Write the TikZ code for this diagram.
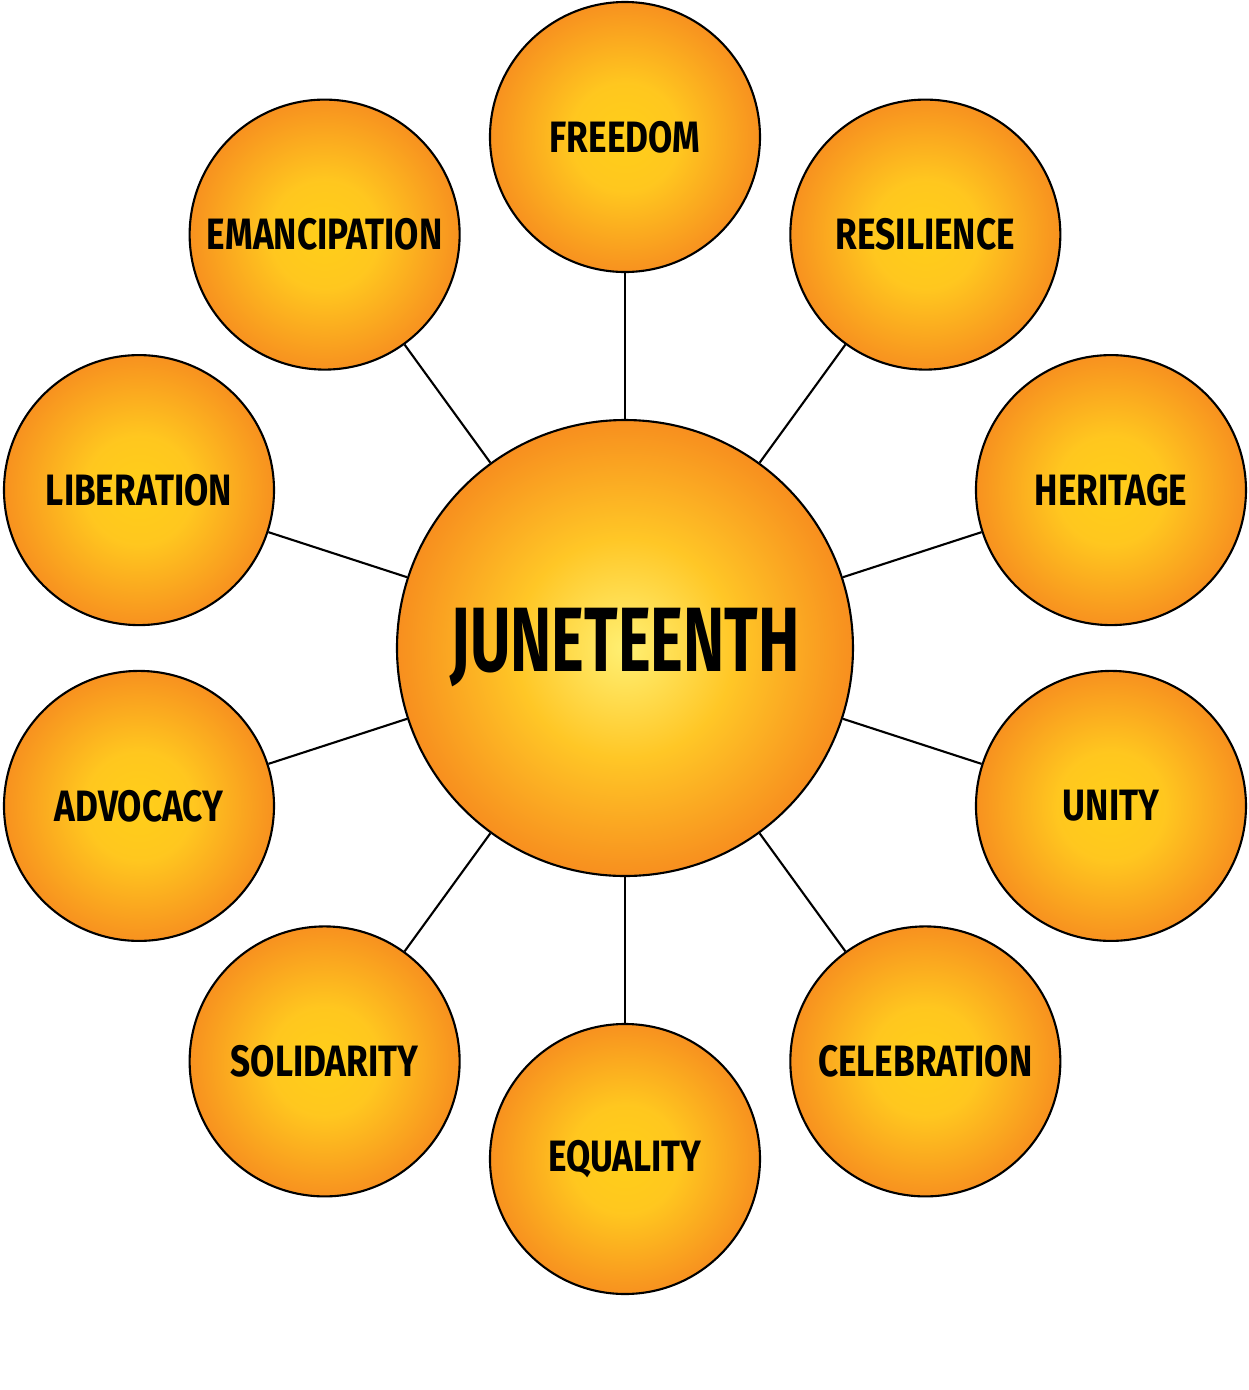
\documentclass[tikz,border=0pt]{standalone}
\usepackage{fontspec}
\newfontfamily\petal{Fira Sans}[FakeStretch=0.8]
\newfontfamily\hubfont{Fira Sans}[FakeStretch=0.68]
\pgfdeclareradialshading{hubglow}{\pgfpoint{0bp}{0bp}}{rgb(0bp)=(1,0.94,0.45); rgb(12bp)=(1,0.78,0.15); rgb(25bp)=(0.97,0.56,0.12); rgb(50bp)=(0.97,0.56,0.12)}
\pgfdeclareradialshading{leafglow}{\pgfpoint{0bp}{0bp}}{rgb(0bp)=(1,0.81,0.1); rgb(10bp)=(1,0.78,0.12); rgb(25bp)=(0.97,0.57,0.12); rgb(50bp)=(0.97,0.57,0.12)}
\begin{document}
\begin{tikzpicture}[every node/.style={circle,draw,line width=0.6pt},
	hub/.style={minimum size=4.56cm,shade,shading=hubglow,font=\hubfont\bfseries\fontsize{26}{30}\selectfont},
	leaf/.style={minimum size=2.7cm,shade,shading=leafglow,font=\petal\bfseries\fontsize{12.5}{15}\selectfont}]
\useasboundingbox (-6.25,-7.42) rectangle (6.24,6.48);
\node[hub] (jun) at (0,0) {JUNETEENTH};
\foreach \word [count=\i] in {FREEDOM,RESILIENCE,HERITAGE,UNITY,CELEBRATION,EQUALITY,SOLIDARITY,ADVOCACY,LIBERATION,EMANCIPATION}
{
	\node[leaf] (p\i) at ({126-36*\i}:5.11) {\word};
	\draw[line width=0.6pt] (jun) -- (p\i);
}
\end{tikzpicture}
\end{document}
